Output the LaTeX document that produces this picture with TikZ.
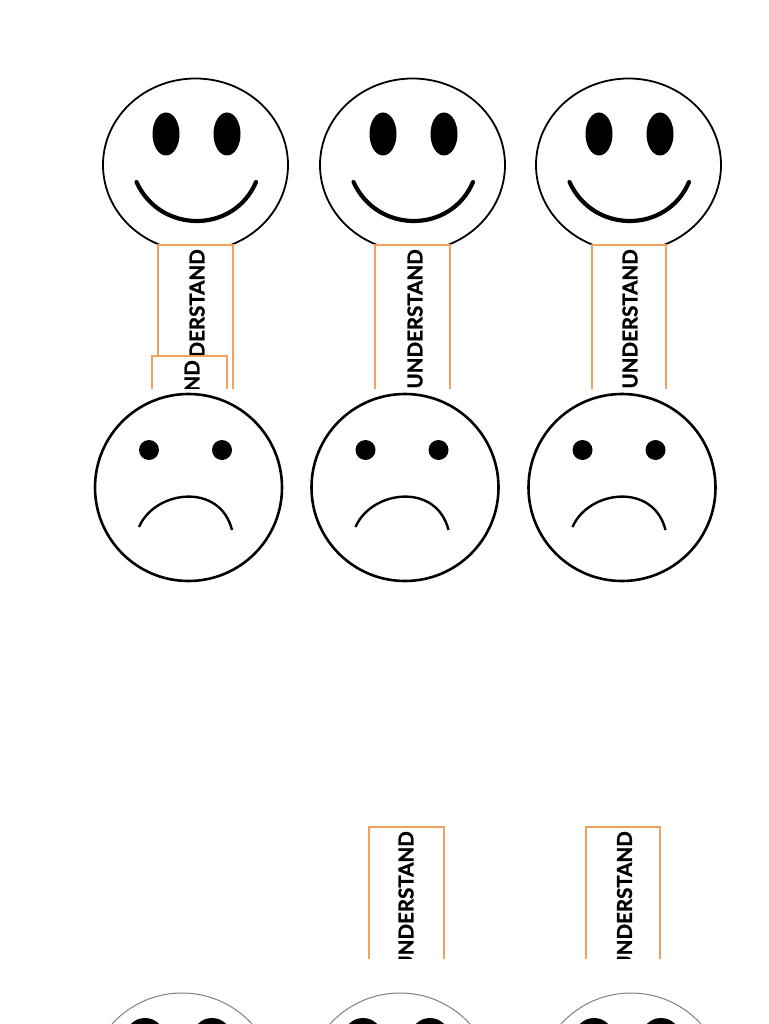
\documentclass[tikz,border=0pt]{standalone}
\usepackage{fontspec}
\setmainfont{Lato}
\newfontfamily\labelfont{Lato}[FakeBold=1.2]
\definecolor{labelorange}{HTML}{F2A05C}
\tikzset{
    labeltext/.style={rotate=90,anchor=east,inner sep=0pt,font=\fontsize{20.5}{20.5}\labelfont\bfseries},
    labelframe/.style={draw=labelorange,line width=2pt},
    happyline/.style={draw=black,line width=1.8pt},
    sadline/.style={draw=black,line width=2.6pt}
}
% x, top, bottom, text x, name
\newcommand{\labelbox}[5]{
    \fill[white] (#1,#2) rectangle (#1+74.5,#3);
    \draw[labelframe] (#1,#3) -- (#1,#2) -- (#1+74.5,#2) -- (#1+74.5,#3);
    \begin{scope}
        \clip (#1,#2) rectangle (#1+74.5,#3);
        \node[labeltext] (#5) at (#4,#2+4) {UNDERSTAND};
    \end{scope}
}
\begin{document}
\begin{tikzpicture}[x=1pt,y=-1pt]
            \useasboundingbox (0,0) rectangle (768,1024);
            \clip (0,0) rectangle (768,1024);

            % Top row of faces
            \foreach \x in {0,217,433} {
                \draw[happyline] (195.5+\x,165) ellipse (92.5 and 86.5);
                \fill (166+\x,134) ellipse (13.5 and 21.5);
                \fill (227+\x,134) ellipse (13.5 and 21.5);
                \draw[line width=4.2pt,line cap=round] (136.5+\x,182) .. controls (160+\x,234) and (234+\x,234) .. (256+\x,182);
            }

            % Labels under the top row
            \labelbox{158}{245}{388.5}{197}{labelA}
            \labelbox{152}{356}{388.5}{192}{labelCopy}
            \labelbox{375}{245}{388.5}{415}{labelB}
            \labelbox{591.5}{245}{388.5}{630}{labelC}

            % Second row of faces
            \foreach \x in {0,216.5,433.5} {
                \draw[sadline] (188.5+\x,487.5) circle (93.5);
                \fill (149+\x,450) circle (10);
                \fill (222+\x,450) circle (10);
                \draw[line width=2.4pt] (139+\x,527) .. controls (155+\x,490) and (220+\x,482) .. (232+\x,530);
            }

            % Labels of the lower part
            \labelbox{369}{827}{958.5}{406}{labelD}
            \labelbox{585.5}{827}{958.5}{624.5}{labelE}

            % Faces cut by the page
            \foreach \x in {0,218,449} {
                \draw[gray,line width=1pt] (182+\x,1087.5) circle (94.5);
                \fill (145+\x,1036) ellipse (19 and 18);
                \fill (212+\x,1036) ellipse (19 and 18);
            }
        \end{tikzpicture}
\end{document}
